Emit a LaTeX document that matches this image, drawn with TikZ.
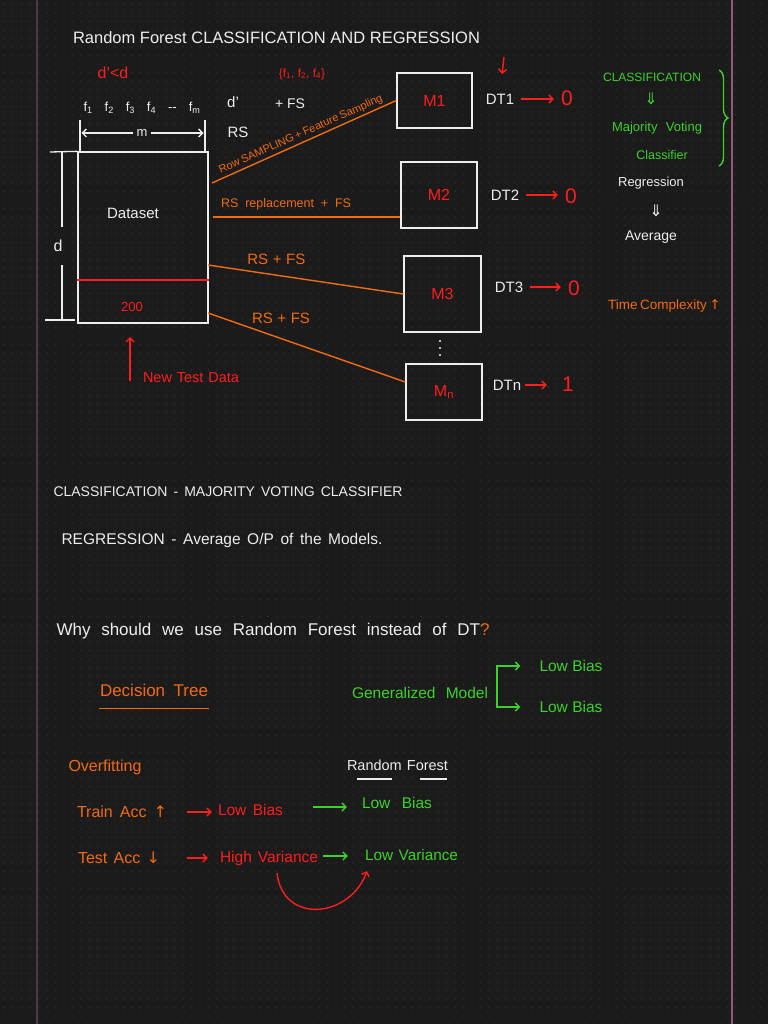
\documentclass[tikz,border=0pt]{standalone}
\usepackage{fontspec}
\setmainfont{Liberation Sans}
\newfontfamily\symf{DejaVu Sans}
\usetikzlibrary{arrows.meta,decorations.pathreplacing}
\newcommand\fsz[1]{\fontsize{#1}{#1}\selectfont}
\definecolor{bg}{HTML}{1B1B1B}
\definecolor{dotc}{HTML}{2D2D2D}
\definecolor{wht}{HTML}{EDEDED}
\definecolor{rd}{HTML}{FF1E1E}
\definecolor{org}{HTML}{F26B12}
\definecolor{grn}{HTML}{3DD12B}
\definecolor{lineL}{HTML}{4E3A46}
\definecolor{lineR}{HTML}{8E5A7A}
\begin{document}
\begin{tikzpicture}[x=1pt,y=-1pt,
 txt/.style={inner sep=1pt,text=wht,font=\fsz{13}},
 arr/.style={-{Straight Barb[length=4pt,width=8pt]}},
 wline/.style={draw=wht,line width=1.3pt},
 rline/.style={draw=rd,line width=1.4pt},
 oline/.style={draw=org,line width=1.4pt},
 gline/.style={draw=grn,line width=1.4pt},
 mbox/.style={draw=wht,line width=1.4pt,inner sep=0pt,text=rd,font=\fsz{16}},
 olab/.style={inner sep=1pt,text=org,font=\fsz{12.5}},
]
% background
\fill[bg] (0,0) rectangle (768,1024);
\useasboundingbox (0,0) rectangle (768,1024);
\foreach \yy in {4.5,13,...,1024} {
  \draw[dotc,line width=1.6pt,line cap=round,dash pattern=on 0pt off 8.5pt] (4.5,\yy) -- (768,\yy);
}
\draw[lineL,line width=1.3pt] (37,0) -- (37,1024);
\draw[lineR,line width=1.3pt] (732,0) -- (732,1024);

% title
\node[txt,font=\fsz{16.5}] (title) at (276.5,38) {\makebox[407pt][s]{Random Forest CLASSIFICATION AND REGRESSION}};
\node[txt,text=rd,font=\fsz{16}] (dd) at (113,73) {d'<d};
\node[txt,text=rd,font=\fsz{12}] (fset) at (302,74) {\{f\textsubscript{1}, f\textsubscript{2}, f\textsubscript{4}\}};

% feature header
\node[txt,font=\fsz{13}] (feat) at (142,108) {\makebox[117pt][s]{f\textsubscript{1} f\textsubscript{2} f\textsubscript{3} f\textsubscript{4} -{}- f\textsubscript{m}}};
\node[txt,font=\fsz{13}] (mlab) at (142,133) {m};
\coordinate (tl1) at (80,120); \coordinate (tl2) at (80,152);
\coordinate (tr1) at (205,120); \coordinate (tr2) at (205,152);
\draw[wline] (tl1) -- (tl2);
\draw[wline] (tr1) -- (tr2);
\draw[wline,arr,shorten <=2pt,shorten >=1.5pt] (mlab.west) -- (mlab.west -| tl1);
\draw[wline,arr,shorten <=2pt,shorten >=1.5pt] (mlab.east) -- (mlab.east -| tr1);

\node[txt,font=\fsz{15}] (dp) at (233,102) {d'};
\node[txt,font=\fsz{15}] (rs) at (238,132) {RS};
\node[txt,font=\fsz{14}] (pfs) at (290,104) {+ FS};

% dataset
\node[draw=wht,line width=1.3pt,minimum width=130pt,minimum height=171pt,inner sep=0pt] (ds) at (143,237.5) {};
\node[txt,font=\fsz{15}] (dstxt) at (133,213) {Dataset};
\draw[rline] (ds.west |- 0,280) -- (ds.east |- 0,280);
\node[txt,text=rd,font=\fsz{13}] (n200) at (132,307) {200};

% d dimension
\node[txt,font=\fsz{16}] (dlab) at (58,246) {d};
\coordinate (dt) at (62,152); \coordinate (db) at (62,320);
\draw[wline] (dt |- dlab.north) ++(0,-12) -- (dt);
\draw[wline] (db |- dlab.south) ++(0,12) -- (db);
\draw[wline] ([xshift=-12pt]dt) -- (ds.north west);
\draw[wline] ([xshift=-17pt]db) -- ([xshift=13pt]db);

% new test data
\coordinate (nt1) at (130,381); \coordinate (nt2) at (130,337);
\draw[rline,arr] (nt1) -- (nt2);
\node[txt,text=rd,font=\fsz{14.5}] (ntd) at (191,378) {\makebox[96pt][s]{New Test Data}};

% models
\node[mbox,minimum width=75pt,minimum height=55pt] (m1) at (434.5,100.5) {M1};
\node[mbox,minimum width=76pt,minimum height=66pt] (m2) at (439,195) {M2};
\node[mbox,minimum width=77pt,minimum height=76pt] (m3) at (442.5,294) {M3};
\node[mbox,minimum width=76pt,minimum height=56pt] (m4) at (444,392) {M\textsubscript{n}};
\fill[wht] (440,341) circle (1.1pt) (440,348) circle (1.1pt) (440,355) circle (1.1pt);

% sampling connectors
\coordinate (s1) at (212,183);
\coordinate (s2) at (213,217);
\coordinate (s3) at (208,265);
\coordinate (s4) at (208,313);
\draw[oline] (s1) -- node[olab,sloped,above=1pt,font=\fsz{11}] (lab1) {\makebox[178pt][s]{Row SAMPLING + Feature Sampling}} (m1.west);
\draw[oline] (s2) -- node[olab,pos=0.39,above=5pt] (lab2) {\makebox[130pt][s]{RS replacement + FS}} (s2 -| m2.west);
\draw[oline] (s3) -- node[olab,pos=0.35,above=9pt,font=\fsz{15}] (lab3) {\makebox[58pt][s]{RS + FS}} (m3.west);
\draw[oline] (s4) -- node[olab,pos=0.37,above=13pt,font=\fsz{15}] (lab4) {\makebox[58pt][s]{RS + FS}} ([yshift=10pt]m4.west);

% DT outputs
\coordinate (ra1) at (504,57); \coordinate (ra2) at (502,74);
\draw[rline,arr] (ra1) -- (ra2);
\node[txt,font=\fsz{15}] (dt1) at (500,99) {DT1};
\node[txt,font=\fsz{15}] (dt2) at (505,195) {DT2};
\node[txt,font=\fsz{15}] (dt3) at (509,287) {DT3};
\node[txt,font=\fsz{15}] (dt4) at (507,385) {DTn};
\node[txt,text=rd,font=\fsz{21}] (o1) at (567,98) {0};
\node[txt,text=rd,font=\fsz{21}] (o2) at (571,196) {0};
\node[txt,text=rd,font=\fsz{21}] (o3) at (574,288) {0};
\node[txt,text=rd,font=\fsz{21}] (o4) at (568,384) {1};
\draw[rline,arr,shorten <=6pt,shorten >=6pt] (dt1.east) -- (dt1.east -| o1.west);
\draw[rline,arr,shorten <=6pt,shorten >=6pt] (dt2.east) -- (dt2.east -| o2.west);
\draw[rline,arr,shorten <=6pt,shorten >=6pt] (dt3.east) -- (dt3.east -| o3.west);
\draw[rline,arr,shorten <=3pt,shorten >=14pt] (dt4.east) -- (dt4.east -| o4.west);

% right column
\node[txt,text=grn,font=\fsz{12}] (cl) at (652,77) {CLASSIFICATION};
\node[txt,text=grn,font=\fsz{16}\symf] (dn1) at (651,99) {⇓};
\node[txt,text=grn,font=\fsz{13}] (mv) at (657,128) {\makebox[90pt][s]{Majority Voting}};
\node[txt,text=grn,font=\fsz{12.5}] (cf) at (662,155) {Classifier};
\coordinate (br1) at (719,70); \coordinate (br2) at (719,166);
\draw[gline,decorate,decoration={brace,amplitude=9pt}] (br1) -- (br2);
\node[txt,font=\fsz{13}] (rg) at (651,183) {Regression};
\node[txt,font=\fsz{16}\symf] (dn2) at (656,211) {⇓};
\node[txt,font=\fsz{14}] (av) at (651,237) {Average};
\node[txt,text=org,font=\fsz{13.5}] (tc) at (664,306) {\makebox[112pt][s]{Time Complexity {\symf ↑}}};

% middle text
\node[txt,font=\fsz{14}] (cls) at (228,492) {\makebox[349pt][s]{CLASSIFICATION - MAJORITY VOTING CLASSIFIER}};
\node[txt,font=\fsz{15.5}] (reg) at (222,540) {\makebox[321pt][s]{REGRESSION - Average O/P of the Models.}};
\node[txt,font=\fsz{17}] (why) at (273,631) {\makebox[433pt][s]{Why should we use Random Forest instead of DT{\color{org}?}}};

\node[txt,text=org,font=\fsz{17}] (dtree) at (154,690) {\makebox[108pt][s]{Decision Tree}};
\draw[oline] ([yshift=-11pt]dtree.south west) -- ([yshift=-11pt]dtree.south east);
\node[txt,text=grn,font=\fsz{15.5}] (gm) at (420,693) {\makebox[136pt][s]{Generalized Model}};
\node[txt,text=grn,font=\fsz{15.5}] (lb1) at (571,666) {\makebox[63pt][s]{Low Bias}};
\node[txt,text=grn,font=\fsz{15.5}] (lb2) at (571,707) {\makebox[63pt][s]{Low Bias}};
\coordinate (brk) at (497,687);
\draw[gline,arr,shorten >=18pt] (brk) |- (lb1.west);
\draw[gline,arr,shorten >=18pt] (brk) |- (lb2.west);

% bottom
\node[txt,text=org,font=\fsz{16}] (ovf) at (105,767) {Overfitting};
\node[txt,font=\fsz{14.5}] (rf) at (397.5,765) {\makebox[101pt][s]{Random Forest}};
\draw[wline] (357,779) -- (392,779);
\draw[wline] (420,779) -- (447,779);

\node[txt,text=org,font=\fsz{16}] (ta) at (122,812) {\makebox[90pt][s]{Train Acc {\symf ↑}}};
\node[txt,text=rd,font=\fsz{15.5}] (lbr) at (250.5,810) {\makebox[65pt][s]{Low Bias}};
\node[txt,text=grn,font=\fsz{15.5}] (lbg) at (397,803) {\makebox[70pt][s]{Low Bias}};
\node[txt,text=org,font=\fsz{16}] (tsa) at (119,858) {\makebox[82pt][s]{Test Acc {\symf ↓}}};
\node[txt,text=rd,font=\fsz{15.5}] (hv) at (269,858) {\makebox[98pt][s]{High Variance}};
\node[txt,text=grn,font=\fsz{15.3}] (lv) at (411.5,855) {\makebox[93pt][s]{Low Variance}};
\draw[rline,arr,shorten <=19pt,shorten >=5pt] (ta.east) -- (ta.east -| lbr.west);
\draw[gline,arr,shorten <=29pt,shorten >=14pt] (lbr.east) ++(0,-3) -- (lbg.west |- 0,807);
\draw[rline,arr,shorten <=26pt,shorten >=11pt] (tsa.east) -- (tsa.east -| hv.west);
\draw[gline,arr,shorten <=4pt,shorten >=16pt] (hv.east) ++(0,-2) -- (lv.west |- 0,856);
\coordinate (cv1) at (277,873); \coordinate (cv2) at (367,871);
\draw[rline,arr] (cv1) .. controls (283,925) and (350,918) .. (cv2);
\end{tikzpicture}
\end{document}
